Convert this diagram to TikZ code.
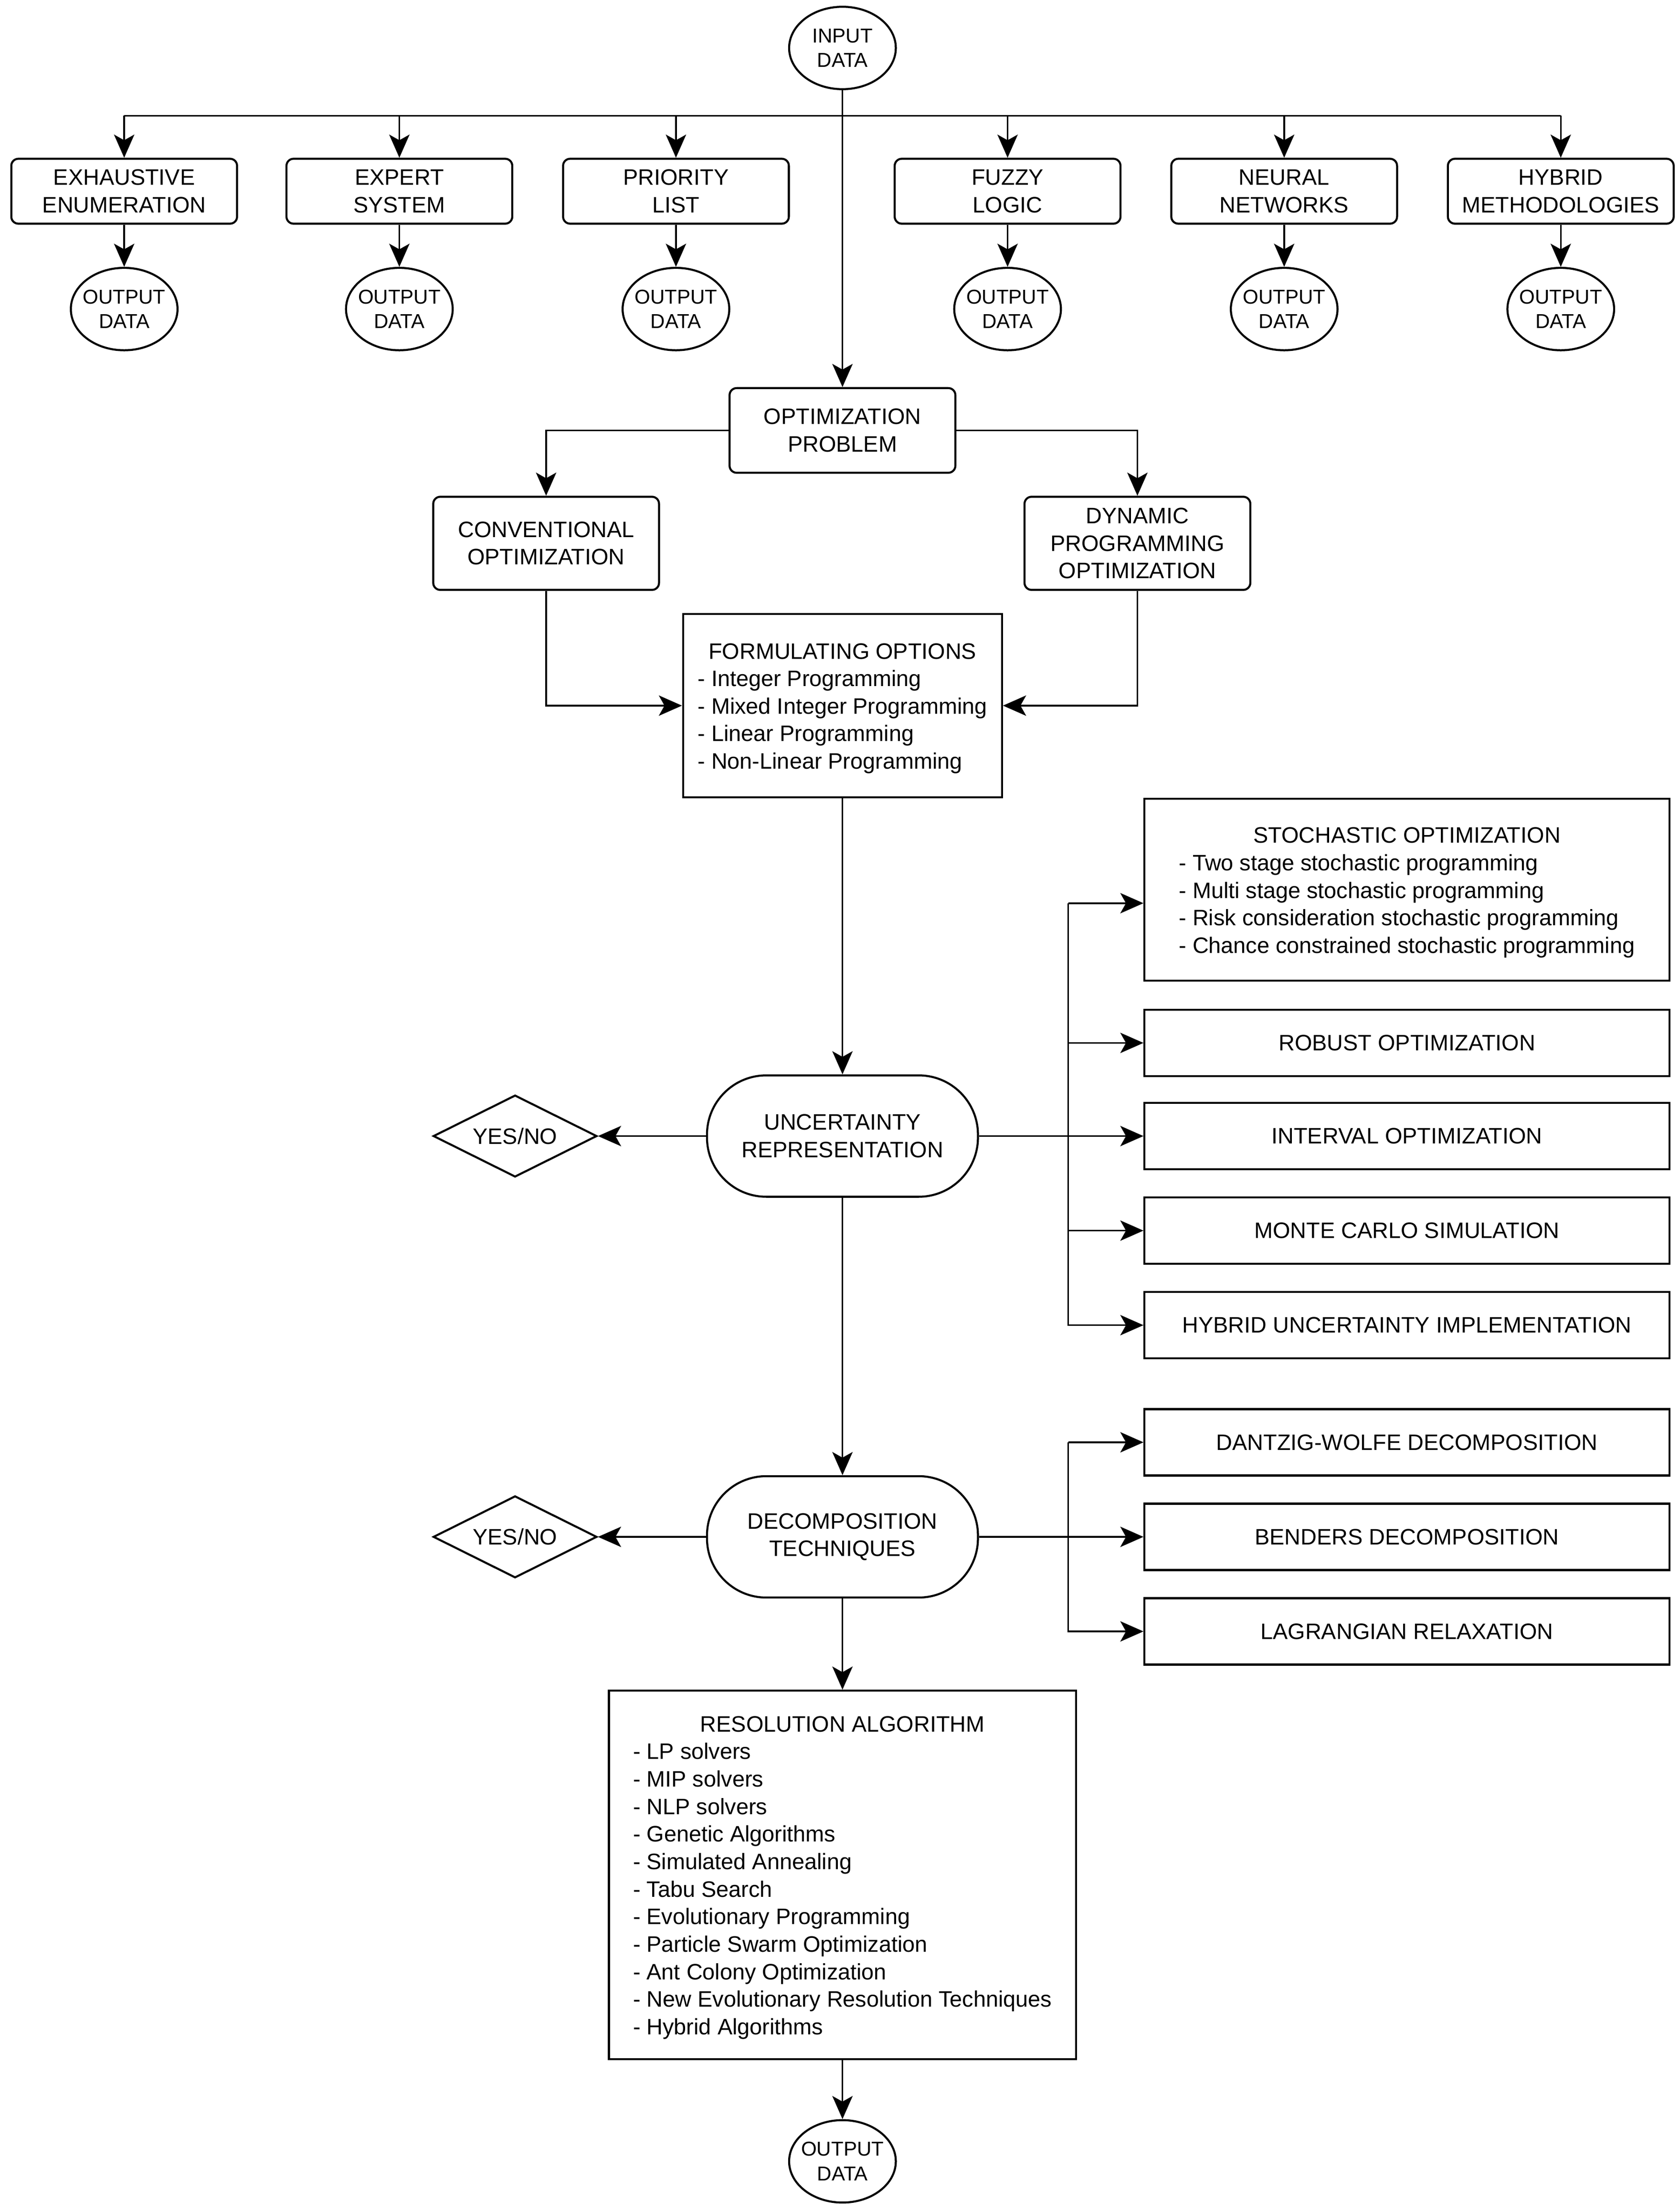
\documentclass[tikz,border=0pt]{standalone}
\usepackage{fontspec}
\setmainfont{Liberation Sans}
\usetikzlibrary{shapes.geometric,arrows.meta}
\newcommand\zbx[1]{\makebox[0pt]{#1}}
\newcommand\ttl[1]{\multicolumn{1}{@{}c@{}}{\rule{0pt}{8.8pt}#1}}
\begin{document}
\begin{tikzpicture}[x=0.5pt,y=-0.5pt,
  every node/.style={font=\fontsize{7.92}{9.75}\selectfont, line width=0.72pt, inner sep=0pt},
  rbox/.style={draw, rounded corners=2.5pt, minimum width=80pt, minimum height=23pt, align=center},
  oval/.style={draw, ellipse, minimum width=37.8pt, minimum height=29.2pt, align=center, font=\fontsize{7.12}{8.77}\selectfont},
  sbox/.style={draw, minimum width=186pt, minimum height=23.5pt},
  lbox/.style={draw},
  pill/.style={draw, rounded corners=21pt, minimum width=96pt, minimum height=43pt, align=center},
  yesno/.style={draw, diamond, aspect=2, minimum width=58pt, minimum height=29pt},
  arr/.style={-{Stealth[length=8.2pt,width=7.2pt,inset=2pt]}, line width=0.58pt},
  conn/.style={line width=0.58pt}
]
\useasboundingbox (0,0) rectangle (1190.2,1566.7);

% top
\node[oval] (in) at (597,34) {\zbx{INPUT}\\\zbx{DATA}};
\node[rbox] (b1) at (88,135.5) {EXHAUSTIVE\\ENUMERATION};
\node[rbox] (b2) at (283,135.5) {EXPERT\\SYSTEM};
\node[rbox] (b3) at (479,135.5) {PRIORITY\\LIST};
\node[rbox] (b4) at (714,135.5) {FUZZY\\LOGIC};
\node[rbox] (b5) at (910,135.5) {NEURAL\\NETWORKS};
\node[rbox] (b6) at (1106,135.5) {HYBRID\\METHODOLOGIES};
\foreach \i/\x in {1/88,2/283,3/479,4/714,5/910,6/1106}
  \node[oval] (o\i) at (\x,219) {\zbx{OUTPUT}\\\zbx{DATA}};

\node[rbox, minimum height=30pt] (opt) at (597,305) {OPTIMIZATION\\PROBLEM};
\node[rbox, minimum height=33pt] (conv) at (387,385) {CONVENTIONAL\\OPTIMIZATION};
\node[rbox, minimum height=33pt] (dyn) at (806,385) {DYNAMIC\\PROGRAMMING\\OPTIMIZATION};
\node[lbox, minimum width=113pt, minimum height=65pt] (form) at (597,500) {%
  \begin{tabular}{@{}l@{}}\ttl{FORMULATING OPTIONS}\\
  - Integer Programming\\
  - Mixed Integer Programming\\
  - Linear Programming\\
  - Non-Linear Programming\end{tabular}};

% uncertainty
\node[pill] (unc) at (597,805) {UNCERTAINTY\\REPRESENTATION};
\node[yesno] (yn1) at (365,805) {YES/NO};
\node[lbox, minimum width=186pt, minimum height=64.5pt] (stoch) at (997,630.5) {%
  \begin{tabular}{@{}l@{}}\ttl{STOCHASTIC OPTIMIZATION}\\
  - Two stage stochastic programming\\
  - Multi stage stochastic programming\\
  - Risk consideration stochastic programming\\
  - Chance constrained stochastic programming\end{tabular}};
\node[sbox] (rob) at (997,739) {ROBUST OPTIMIZATION};
\node[sbox] (intv) at (997,805) {INTERVAL OPTIMIZATION};
\node[sbox] (mc) at (997,872) {MONTE CARLO SIMULATION};
\node[sbox] (hyb) at (997,939) {HYBRID UNCERTAINTY IMPLEMENTATION};

% decomposition
\node[pill] (dec) at (597,1089) {DECOMPOSITION\\TECHNIQUES};
\node[yesno] (yn2) at (365,1089) {YES/NO};
\node[sbox] (dw) at (997,1022) {DANTZIG-WOLFE DECOMPOSITION};
\node[sbox] (ben) at (997,1089) {BENDERS DECOMPOSITION};
\node[sbox] (lag) at (997,1156) {LAGRANGIAN RELAXATION};

\node[lbox, minimum width=165.5pt, minimum height=130.5pt] (res) at (597,1328.5) {%
  \begin{tabular}{@{}l@{}}\ttl{RESOLUTION ALGORITHM}\\
  - LP solvers\\
  - MIP solvers\\
  - NLP solvers\\
  - Genetic Algorithms\\
  - Simulated Annealing\\
  - Tabu Search\\
  - Evolutionary Programming\\
  - Particle Swarm Optimization\\
  - Ant Colony Optimization\\
  - New Evolutionary Resolution Techniques\\
  - Hybrid Algorithms\end{tabular}};
\node[oval] (out) at (597,1531.5) {\zbx{OUTPUT}\\\zbx{DATA}};

% connectors
\coordinate (busL) at (88,82);
\coordinate (busR) at (1106,82);
\draw[conn] (busL) -- (busR);
\foreach \n in {b1,b2,b3,b4,b5,b6}
  \draw[arr] (\n.north |- busL) -- (\n.north);
\foreach \i in {1,...,6}
  \draw[arr] (b\i) -- (o\i);
\draw[arr] (in) -- (opt);
\draw[arr] (opt.west) -| (conv.north);
\draw[arr] (opt.east) -| (dyn.north);
\draw[arr] (conv.south) |- (form.west);
\draw[arr] (dyn.south) |- (form.east);
\draw[arr] (form) -- (unc);
\draw[arr] (unc) -- (yn1);
\coordinate (ub) at (757,640);
\draw[arr] (ub) -- (ub -| stoch.west);
\draw[arr] (ub) |- (hyb.west);
\draw[arr] (ub |- rob.west) -- (rob.west);
\draw[arr] (unc.east) -- (intv.west);
\draw[arr] (ub |- mc.west) -- (mc.west);
\draw[arr] (unc) -- (dec);
\draw[arr] (dec) -- (yn2);
\coordinate (db) at (757,1022);
\draw[arr] (db) -- (dw.west);
\draw[arr] (db) |- (lag.west);
\draw[arr] (dec.east) -- (ben.west);
\draw[arr] (dec) -- (res);
\draw[arr] (res) -- (out);
\end{tikzpicture}
\end{document}
